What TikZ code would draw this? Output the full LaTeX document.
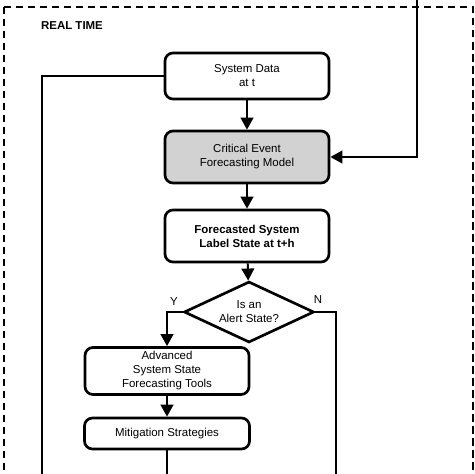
\documentclass[tikz,border=0pt]{standalone}
\usepackage{fontspec}
\setmainfont{Liberation Sans}
\usetikzlibrary{arrows.meta,shapes.geometric}

\definecolor{critgray}{RGB}{210,210,210}

\tikzset{every picture/.style={line width=1.5pt}}
\tikzset{
  stepbox/.style={draw, line width=2pt, rounded corners=6pt, align=center, inner sep=0pt,
    font=\fontsize{8.6}{10.5}\selectfont},
  decision/.style={draw, diamond, aspect=2, line width=2pt, align=center, inner sep=0pt,
    minimum width=97.5pt, minimum height=45.75pt, font=\fontsize{8.6}{10.5}\selectfont},
  lbl/.style={inner sep=0pt, font=\fontsize{8.6}{10.5}\selectfont},
  flow/.style={-{Triangle[length=9pt,width=9.5pt]}},
  frame/.style={dash pattern=on 5.3pt off 3.7pt}
}

\begin{document}
\begin{tikzpicture}[x=0.75pt,y=0.75pt,yscale=-1,xscale=1]
\path[use as bounding box] (0,0) rectangle (474,474);
\clip (0,0) rectangle (474,474);

%Dashed frame
\draw[frame] (4,7) rectangle (472.5,520);

% Text Node
\node[lbl, font=\fontsize{8.6}{10.5}\selectfont\bfseries] (realtime) at (72,26) {REAL TIME};

%Boxes
\node[stepbox, minimum width=123pt, minimum height=34.5pt] (sysdata) at (247,76) {System Data\\at t};
\node[stepbox, fill=critgray, minimum width=123pt, minimum height=39pt] (critical) at (247,157) {Critical Event\\Forecasting Model};
\node[stepbox, minimum width=123pt, minimum height=39pt, font=\fontsize{8.6}{10.5}\selectfont\bfseries] (forecast) at (247,236) {Forecasted System\\Label State at t+h};
\node[decision] (alert) at (249,312) {Is an\\Alert State?};
\node[stepbox, minimum width=123pt, minimum height=35.25pt] (advanced) at (167,371) {Advanced\\System State\\Forecasting Tools};
\node[stepbox, minimum width=123.75pt, minimum height=23.25pt] (mitigation) at (167,433.5) {Mitigation Strategies};

% Text Node
\node[lbl] (yes) at (174,302) {Y};
\node[lbl] (no) at (318,300) {N};

%Free ends
\coordinate (input) at (417,-10);
\coordinate (loopend) at (42,500);
\coordinate (noend) at (336,500);
\coordinate (mitend) at (167,500);

%Connectors
\draw[flow] (sysdata) -- (critical);
\draw[flow] (critical) -- (forecast);
\draw[flow] (forecast) -- (alert);
\draw[flow] (alert.west) -| (advanced.north);
\draw[flow] (advanced) -- (mitigation);
\draw (alert.east) -| (noend);
\draw (mitigation) -- (mitend);
\draw (sysdata.west) -| (loopend);
\draw[flow] (input) |- (critical.east);

\end{tikzpicture}
\end{document}
